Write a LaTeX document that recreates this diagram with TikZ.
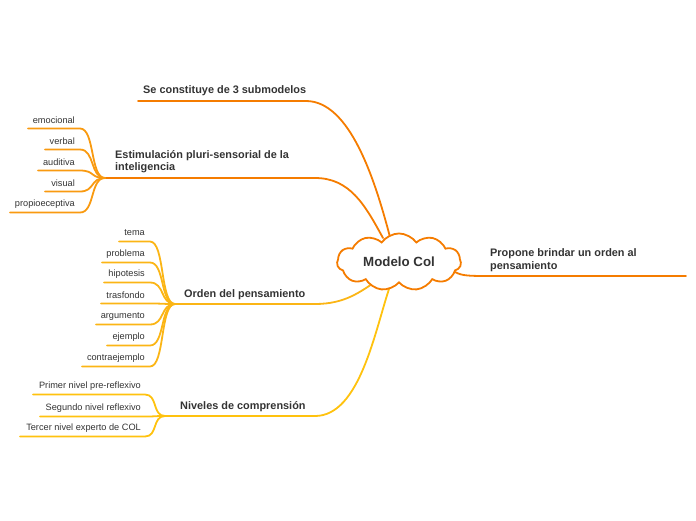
\documentclass[tikz,border=0pt]{standalone}
\usepackage{fontspec}
\setmainfont{Liberation Sans}
\usetikzlibrary{shapes.symbols}
\definecolor{oA}{HTML}{F57C00}
\definecolor{oB}{HTML}{F99A10}
\definecolor{oC}{HTML}{FBB515}
\definecolor{oD}{HTML}{FFC20E}
\definecolor{tx}{HTML}{333333}
\begin{document}
\begin{tikzpicture}[x=1pt,y=-1pt,
 main/.style={font=\bfseries\fontsize{10.9}{12.5}\selectfont,text=tx,anchor=west,inner sep=0pt,align=left},
 sub/.style={font=\fontsize{9.2}{11}\selectfont,text=tx,anchor=east,inner sep=0pt},
 ln/.style={line width=1.8pt,line cap=round},
 cl/.style={cloud,cloud puffs=11,cloud puff arc=110,aspect=2.6,draw=oA,line width=1.8pt,fill=white,minimum width=124,minimum height=50,font=\bfseries\fontsize{13.3}{15}\selectfont,text=tx}]
\useasboundingbox (0,0) rectangle (696,520);
\coordinate (c1) at (390,237);\coordinate (c2) at (383,238);\coordinate (c3) at (378,280);\coordinate (c4) at (390,286);\coordinate (c5) at (455,272);
% branch 1
\node[main] (b1) at (143,91) {Se constituye de 3 submodelos};
\coordinate (u1) at (138,101);\coordinate (e1) at (306,101);
\draw[ln,oA] (u1)--(e1) .. controls (350,101) and (375,180) .. (c1);
% branch 2
\node[main] (b2) at (115,161.5) {Estimulación pluri-sensorial de la\\inteligencia};
\coordinate (h2) at (105,178);\coordinate (e2) at (315,178);
\draw[ln,oA] (h2)--(e2) .. controls (350,178) and (365,205) .. (c2);
\foreach \t/\y/\l/\n in {emocional/120/28/a,verbal/141/45/b,auditiva/162/38/c,visual/183/45/d,propioeceptiva/204/10/e}{
 \node[sub] (s2\n) at (75,\y) {\t};
 \coordinate (l2\n) at (\l,\y+8.5);\coordinate (r2\n) at (80,\y+8.5);
 \draw[ln,oB] (l2\n)--(r2\n) .. controls (95,\y+8.5) and (90,178) .. (h2);}
% branch 3
\node[main] (b3) at (184,295) {Orden del pensamiento};
\coordinate (h3) at (175,304);\coordinate (e3) at (315,304);
\draw[ln,oC] (h3)--(e3) .. controls (345,304) and (360,292) .. (c3);
\foreach \t/\y/\l/\n in {tema/233/119/a,problema/254/102/b,hipotesis/274/104/c,trasfondo/295/101/d,argumento/316/96/e,ejemplo/337/107/f,contraejemplo/358/82/g}{
 \node[sub] (s3\n) at (145,\y) {\t};
 \coordinate (l3\n) at (\l,\y+8.5);\coordinate (r3\n) at (150,\y+8.5);
 \draw[ln,oC] (l3\n)--(r3\n) .. controls (165,\y+8.5) and (160,304) .. (h3);}
% branch 4
\node[main] (b4) at (180,407) {Niveles de comprensión};
\coordinate (h4) at (165,416);\coordinate (e4) at (315,416);
\draw[ln,oD] (h4)--(e4) .. controls (360,416) and (375,330) .. (c4);
\foreach \t/\y/\l/\n in {Primer nivel pre-reflexivo/386/33/a,Segundo nivel reflexivo/408/40/b,Tercer nivel experto de COL/428/20/c}{
 \node[sub] (s4\n) at (141,\y) {\t};
 \coordinate (l4\n) at (\l,\y+8.5);\coordinate (r4\n) at (145,\y+8.5);
 \draw[ln,oD] (l4\n)--(r4\n) .. controls (158,\y+8.5) and (152,416) .. (h4);}
% right
\node[main] (b5) at (490,260) {Propone brindar un orden al\\pensamiento};
\coordinate (e5) at (686,276);
\draw[ln,oA] (c5) .. controls (462,276) and (470,276) .. (490,276) -- (e5);
\node[cl] (c) at (399,262) {Modelo Col};
\end{tikzpicture}
\end{document}
